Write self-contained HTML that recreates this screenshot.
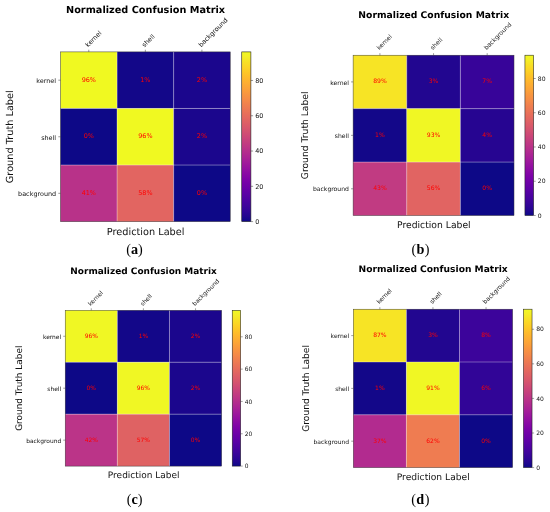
<!DOCTYPE html>
<html><head><meta charset="utf-8"><style>
html,body{margin:0;padding:0;background:#fff;}
body{width:550px;height:512px;overflow:hidden;}
svg{display:block;}
.t{font-family:"DejaVu Sans","Liberation Sans",sans-serif;text-rendering:geometricPrecision;}
</style></head><body>
<svg width="550" height="512" viewBox="0 0 550 512">
<defs><linearGradient id="pl" x1="0" y1="1" x2="0" y2="0"><stop offset="0.000" stop-color="#0d0887"/><stop offset="0.031" stop-color="#220690"/><stop offset="0.062" stop-color="#310597"/><stop offset="0.094" stop-color="#3f049c"/><stop offset="0.125" stop-color="#4c02a1"/><stop offset="0.156" stop-color="#5901a5"/><stop offset="0.188" stop-color="#6600a7"/><stop offset="0.219" stop-color="#7201a8"/><stop offset="0.250" stop-color="#7e03a8"/><stop offset="0.281" stop-color="#8a09a5"/><stop offset="0.312" stop-color="#9511a1"/><stop offset="0.344" stop-color="#a01a9c"/><stop offset="0.375" stop-color="#aa2395"/><stop offset="0.406" stop-color="#b32c8e"/><stop offset="0.438" stop-color="#bc3587"/><stop offset="0.469" stop-color="#c43e7f"/><stop offset="0.500" stop-color="#cc4778"/><stop offset="0.531" stop-color="#d35171"/><stop offset="0.562" stop-color="#da5a6a"/><stop offset="0.594" stop-color="#e06363"/><stop offset="0.625" stop-color="#e66c5c"/><stop offset="0.656" stop-color="#eb7655"/><stop offset="0.688" stop-color="#f0804e"/><stop offset="0.719" stop-color="#f58b47"/><stop offset="0.750" stop-color="#f89540"/><stop offset="0.781" stop-color="#fba139"/><stop offset="0.812" stop-color="#fdac33"/><stop offset="0.844" stop-color="#feb82c"/><stop offset="0.875" stop-color="#fdc527"/><stop offset="0.906" stop-color="#fcd225"/><stop offset="0.938" stop-color="#f8df25"/><stop offset="0.969" stop-color="#f4ed27"/><stop offset="1.000" stop-color="#f0f921"/></linearGradient></defs>
<rect width="550" height="512" fill="#fff"/>

<g transform="translate(60.50 51.90) scale(0.99824 0.99824)">
<rect x="0.000" y="0.000" width="56.687" height="56.687" fill="#f0f921"/>
<rect x="56.667" y="0.000" width="56.687" height="56.687" fill="#130789"/>
<rect x="113.333" y="0.000" width="56.687" height="56.687" fill="#1b068d"/>
<rect x="0.000" y="56.667" width="56.687" height="56.687" fill="#0d0887"/>
<rect x="56.667" y="56.667" width="56.687" height="56.687" fill="#f0f921"/>
<rect x="113.333" y="56.667" width="56.687" height="56.687" fill="#1b068d"/>
<rect x="0.000" y="113.333" width="56.687" height="56.687" fill="#b83289"/>
<rect x="56.667" y="113.333" width="56.687" height="56.687" fill="#e26561"/>
<rect x="113.333" y="113.333" width="56.687" height="56.687" fill="#0d0887"/>
<line x1="56.667" y1="0" x2="56.667" y2="170.0" stroke="#ffffff" stroke-opacity="0.36" stroke-width="1"/>
<line x1="0" y1="56.667" x2="170.0" y2="56.667" stroke="#ffffff" stroke-opacity="0.36" stroke-width="1"/>
<line x1="113.333" y1="0" x2="113.333" y2="170.0" stroke="#ffffff" stroke-opacity="0.36" stroke-width="1"/>
<line x1="0" y1="113.333" x2="170.0" y2="113.333" stroke="#ffffff" stroke-opacity="0.36" stroke-width="1"/>
<rect x="0" y="0" width="170.0" height="170.0" fill="none" stroke="#333" stroke-width="0.5"/>
<text class="t" x="28.333" y="29.933" font-size="6.45" fill="#ff0000" text-anchor="middle">96%</text>
<text class="t" x="85.000" y="29.933" font-size="6.45" fill="#ff0000" text-anchor="middle">1%</text>
<text class="t" x="141.667" y="29.933" font-size="6.45" fill="#ff0000" text-anchor="middle">2%</text>
<text class="t" x="28.333" y="86.600" font-size="6.45" fill="#ff0000" text-anchor="middle">0%</text>
<text class="t" x="85.000" y="86.600" font-size="6.45" fill="#ff0000" text-anchor="middle">96%</text>
<text class="t" x="141.667" y="86.600" font-size="6.45" fill="#ff0000" text-anchor="middle">2%</text>
<text class="t" x="28.333" y="143.267" font-size="6.45" fill="#ff0000" text-anchor="middle">41%</text>
<text class="t" x="85.000" y="143.267" font-size="6.45" fill="#ff0000" text-anchor="middle">58%</text>
<text class="t" x="141.667" y="143.267" font-size="6.45" fill="#ff0000" text-anchor="middle">0%</text>
<line x1="28.333" y1="0" x2="28.333" y2="-2.2" stroke="#333" stroke-width="0.5"/>
<line x1="0" y1="28.333" x2="-2.2" y2="28.333" stroke="#333" stroke-width="0.5"/>
<text class="t" x="-4.4" y="31.133" font-size="6.45" fill="#111" text-anchor="end">kernel</text>
<text class="t" x="0" y="0" font-size="6.45" fill="#111" transform="translate(27.583 -4.450) rotate(-45)">kernel</text>
<line x1="85.000" y1="0" x2="85.000" y2="-2.2" stroke="#333" stroke-width="0.5"/>
<line x1="0" y1="85.000" x2="-2.2" y2="85.000" stroke="#333" stroke-width="0.5"/>
<text class="t" x="-4.4" y="87.800" font-size="6.45" fill="#111" text-anchor="end">shell</text>
<text class="t" x="0" y="0" font-size="6.45" fill="#111" transform="translate(84.250 -4.450) rotate(-45)">shell</text>
<line x1="141.667" y1="0" x2="141.667" y2="-2.2" stroke="#333" stroke-width="0.5"/>
<line x1="0" y1="141.667" x2="-2.2" y2="141.667" stroke="#333" stroke-width="0.5"/>
<text class="t" x="-4.4" y="144.467" font-size="6.45" fill="#111" text-anchor="end">background</text>
<text class="t" x="0" y="0" font-size="6.45" fill="#111" transform="translate(140.917 -4.450) rotate(-45)">background</text>
<text class="t" x="85.2" y="-39.250" font-size="9.75" font-weight="bold" fill="#000" text-anchor="middle">Normalized Confusion Matrix</text>
<text class="t" x="85.3" y="183" font-size="9.75" fill="#111" text-anchor="middle">Prediction Label</text>
<text class="t" x="0" y="0" font-size="9.75" fill="#111" text-anchor="middle" transform="translate(-47.4 85) rotate(-90)">Ground Truth Label</text>
<rect x="181.560" y="0" width="9.180" height="170.0" fill="url(#pl)" stroke="#222" stroke-width="0.6"/>
<line x1="190.740" y1="170.000" x2="192.940" y2="170.000" stroke="#333" stroke-width="0.5"/>
<text class="t" x="195.140" y="172.400" font-size="6.45" fill="#111">0</text>
<line x1="190.740" y1="134.657" x2="192.940" y2="134.657" stroke="#333" stroke-width="0.5"/>
<text class="t" x="195.140" y="137.057" font-size="6.45" fill="#111">20</text>
<line x1="190.740" y1="99.314" x2="192.940" y2="99.314" stroke="#333" stroke-width="0.5"/>
<text class="t" x="195.140" y="101.714" font-size="6.45" fill="#111">40</text>
<line x1="190.740" y1="63.971" x2="192.940" y2="63.971" stroke="#333" stroke-width="0.5"/>
<text class="t" x="195.140" y="66.371" font-size="6.45" fill="#111">60</text>
<line x1="190.740" y1="28.628" x2="192.940" y2="28.628" stroke="#333" stroke-width="0.5"/>
<text class="t" x="195.140" y="31.028" font-size="6.45" fill="#111">80</text>
</g>
<text x="134.50" y="254.20" font-family="Liberation Serif, serif" font-size="14.2" letter-spacing="0" fill="#000" text-anchor="middle">(<tspan font-weight="bold">a</tspan>)</text>
<g transform="translate(353.10 55.20) scale(0.94647 0.94294)">
<rect x="0.000" y="0.000" width="56.687" height="56.687" fill="#f7e425"/>
<rect x="56.667" y="0.000" width="56.687" height="56.687" fill="#220690"/>
<rect x="113.333" y="0.000" width="56.687" height="56.687" fill="#370499"/>
<rect x="0.000" y="56.667" width="56.687" height="56.687" fill="#130789"/>
<rect x="56.667" y="56.667" width="56.687" height="56.687" fill="#f0f724"/>
<rect x="113.333" y="56.667" width="56.687" height="56.687" fill="#260591"/>
<rect x="0.000" y="113.333" width="56.687" height="56.687" fill="#c13b82"/>
<rect x="56.667" y="113.333" width="56.687" height="56.687" fill="#e16462"/>
<rect x="113.333" y="113.333" width="56.687" height="56.687" fill="#0d0887"/>
<line x1="56.667" y1="0" x2="56.667" y2="170.0" stroke="#ffffff" stroke-opacity="0.36" stroke-width="1"/>
<line x1="0" y1="56.667" x2="170.0" y2="56.667" stroke="#ffffff" stroke-opacity="0.36" stroke-width="1"/>
<line x1="113.333" y1="0" x2="113.333" y2="170.0" stroke="#ffffff" stroke-opacity="0.36" stroke-width="1"/>
<line x1="0" y1="113.333" x2="170.0" y2="113.333" stroke="#ffffff" stroke-opacity="0.36" stroke-width="1"/>
<rect x="0" y="0" width="170.0" height="170.0" fill="none" stroke="#333" stroke-width="0.5"/>
<text class="t" x="28.333" y="29.933" font-size="6.45" fill="#ff0000" text-anchor="middle">89%</text>
<text class="t" x="85.000" y="29.933" font-size="6.45" fill="#ff0000" text-anchor="middle">3%</text>
<text class="t" x="141.667" y="29.933" font-size="6.45" fill="#ff0000" text-anchor="middle">7%</text>
<text class="t" x="28.333" y="86.600" font-size="6.45" fill="#ff0000" text-anchor="middle">1%</text>
<text class="t" x="85.000" y="86.600" font-size="6.45" fill="#ff0000" text-anchor="middle">93%</text>
<text class="t" x="141.667" y="86.600" font-size="6.45" fill="#ff0000" text-anchor="middle">4%</text>
<text class="t" x="28.333" y="143.267" font-size="6.45" fill="#ff0000" text-anchor="middle">43%</text>
<text class="t" x="85.000" y="143.267" font-size="6.45" fill="#ff0000" text-anchor="middle">56%</text>
<text class="t" x="141.667" y="143.267" font-size="6.45" fill="#ff0000" text-anchor="middle">0%</text>
<line x1="28.333" y1="0" x2="28.333" y2="-2.2" stroke="#333" stroke-width="0.5"/>
<line x1="0" y1="28.333" x2="-2.2" y2="28.333" stroke="#333" stroke-width="0.5"/>
<text class="t" x="-4.4" y="31.133" font-size="6.45" fill="#111" text-anchor="end">kernel</text>
<text class="t" x="0" y="0" font-size="6.45" fill="#111" transform="translate(27.583 -5.190) rotate(-45)">kernel</text>
<line x1="85.000" y1="0" x2="85.000" y2="-2.2" stroke="#333" stroke-width="0.5"/>
<line x1="0" y1="85.000" x2="-2.2" y2="85.000" stroke="#333" stroke-width="0.5"/>
<text class="t" x="-4.4" y="87.800" font-size="6.45" fill="#111" text-anchor="end">shell</text>
<text class="t" x="0" y="0" font-size="6.45" fill="#111" transform="translate(84.250 -5.190) rotate(-45)">shell</text>
<line x1="141.667" y1="0" x2="141.667" y2="-2.2" stroke="#333" stroke-width="0.5"/>
<line x1="0" y1="141.667" x2="-2.2" y2="141.667" stroke="#333" stroke-width="0.5"/>
<text class="t" x="-4.4" y="144.467" font-size="6.45" fill="#111" text-anchor="end">background</text>
<text class="t" x="0" y="0" font-size="6.45" fill="#111" transform="translate(140.917 -5.190) rotate(-45)">background</text>
<text class="t" x="85.2" y="-39.250" font-size="9.75" font-weight="bold" fill="#000" text-anchor="middle">Normalized Confusion Matrix</text>
<text class="t" x="85.3" y="183" font-size="9.75" fill="#111" text-anchor="middle">Prediction Label</text>
<text class="t" x="0" y="0" font-size="9.75" fill="#111" text-anchor="middle" transform="translate(-47.4 85) rotate(-90)">Ground Truth Label</text>
<rect x="181.560" y="0" width="9.180" height="170.0" fill="url(#pl)" stroke="#222" stroke-width="0.6"/>
<line x1="190.740" y1="170.000" x2="192.940" y2="170.000" stroke="#333" stroke-width="0.5"/>
<text class="t" x="195.140" y="172.400" font-size="6.45" fill="#111">0</text>
<line x1="190.740" y1="133.675" x2="192.940" y2="133.675" stroke="#333" stroke-width="0.5"/>
<text class="t" x="195.140" y="136.075" font-size="6.45" fill="#111">20</text>
<line x1="190.740" y1="97.350" x2="192.940" y2="97.350" stroke="#333" stroke-width="0.5"/>
<text class="t" x="195.140" y="99.750" font-size="6.45" fill="#111">40</text>
<line x1="190.740" y1="61.026" x2="192.940" y2="61.026" stroke="#333" stroke-width="0.5"/>
<text class="t" x="195.140" y="63.426" font-size="6.45" fill="#111">60</text>
<line x1="190.740" y1="24.701" x2="192.940" y2="24.701" stroke="#333" stroke-width="0.5"/>
<text class="t" x="195.140" y="27.101" font-size="6.45" fill="#111">80</text>
</g>
<text x="420.70" y="254.00" font-family="Liberation Serif, serif" font-size="14.2" letter-spacing="0.4" fill="#000" text-anchor="middle">(<tspan font-weight="bold">b</tspan>)</text>
<g transform="translate(65.20 310.30) scale(0.92000 0.91647)">
<rect x="0.000" y="0.000" width="56.687" height="56.687" fill="#f0f724"/>
<rect x="56.667" y="0.000" width="56.687" height="56.687" fill="#130789"/>
<rect x="113.333" y="0.000" width="56.687" height="56.687" fill="#1b068d"/>
<rect x="0.000" y="56.667" width="56.687" height="56.687" fill="#0d0887"/>
<rect x="56.667" y="56.667" width="56.687" height="56.687" fill="#f0f724"/>
<rect x="113.333" y="56.667" width="56.687" height="56.687" fill="#1b068d"/>
<rect x="0.000" y="113.333" width="56.687" height="56.687" fill="#bb3488"/>
<rect x="56.667" y="113.333" width="56.687" height="56.687" fill="#df6263"/>
<rect x="113.333" y="113.333" width="56.687" height="56.687" fill="#0d0887"/>
<line x1="56.667" y1="0" x2="56.667" y2="170.0" stroke="#ffffff" stroke-opacity="0.36" stroke-width="1"/>
<line x1="0" y1="56.667" x2="170.0" y2="56.667" stroke="#ffffff" stroke-opacity="0.36" stroke-width="1"/>
<line x1="113.333" y1="0" x2="113.333" y2="170.0" stroke="#ffffff" stroke-opacity="0.36" stroke-width="1"/>
<line x1="0" y1="113.333" x2="170.0" y2="113.333" stroke="#ffffff" stroke-opacity="0.36" stroke-width="1"/>
<rect x="0" y="0" width="170.0" height="170.0" fill="none" stroke="#333" stroke-width="0.5"/>
<text class="t" x="28.333" y="29.933" font-size="6.45" fill="#ff0000" text-anchor="middle">96%</text>
<text class="t" x="85.000" y="29.933" font-size="6.45" fill="#ff0000" text-anchor="middle">1%</text>
<text class="t" x="141.667" y="29.933" font-size="6.45" fill="#ff0000" text-anchor="middle">2%</text>
<text class="t" x="28.333" y="86.600" font-size="6.45" fill="#ff0000" text-anchor="middle">0%</text>
<text class="t" x="85.000" y="86.600" font-size="6.45" fill="#ff0000" text-anchor="middle">96%</text>
<text class="t" x="141.667" y="86.600" font-size="6.45" fill="#ff0000" text-anchor="middle">2%</text>
<text class="t" x="28.333" y="143.267" font-size="6.45" fill="#ff0000" text-anchor="middle">42%</text>
<text class="t" x="85.000" y="143.267" font-size="6.45" fill="#ff0000" text-anchor="middle">57%</text>
<text class="t" x="141.667" y="143.267" font-size="6.45" fill="#ff0000" text-anchor="middle">0%</text>
<line x1="28.333" y1="0" x2="28.333" y2="-2.2" stroke="#333" stroke-width="0.5"/>
<line x1="0" y1="28.333" x2="-2.2" y2="28.333" stroke="#333" stroke-width="0.5"/>
<text class="t" x="-4.4" y="31.133" font-size="6.45" fill="#111" text-anchor="end">kernel</text>
<text class="t" x="0" y="0" font-size="6.45" fill="#111" transform="translate(27.583 -4.450) rotate(-45)">kernel</text>
<line x1="85.000" y1="0" x2="85.000" y2="-2.2" stroke="#333" stroke-width="0.5"/>
<line x1="0" y1="85.000" x2="-2.2" y2="85.000" stroke="#333" stroke-width="0.5"/>
<text class="t" x="-4.4" y="87.800" font-size="6.45" fill="#111" text-anchor="end">shell</text>
<text class="t" x="0" y="0" font-size="6.45" fill="#111" transform="translate(84.250 -4.450) rotate(-45)">shell</text>
<line x1="141.667" y1="0" x2="141.667" y2="-2.2" stroke="#333" stroke-width="0.5"/>
<line x1="0" y1="141.667" x2="-2.2" y2="141.667" stroke="#333" stroke-width="0.5"/>
<text class="t" x="-4.4" y="144.467" font-size="6.45" fill="#111" text-anchor="end">background</text>
<text class="t" x="0" y="0" font-size="6.45" fill="#111" transform="translate(140.917 -4.450) rotate(-45)">background</text>
<text class="t" x="85.2" y="-39.250" font-size="9.75" font-weight="bold" fill="#000" text-anchor="middle">Normalized Confusion Matrix</text>
<text class="t" x="85.3" y="183" font-size="9.75" fill="#111" text-anchor="middle">Prediction Label</text>
<text class="t" x="0" y="0" font-size="9.75" fill="#111" text-anchor="middle" transform="translate(-47.4 85) rotate(-90)">Ground Truth Label</text>
<rect x="181.560" y="0" width="9.180" height="170.0" fill="url(#pl)" stroke="#222" stroke-width="0.6"/>
<line x1="190.740" y1="170.000" x2="192.940" y2="170.000" stroke="#333" stroke-width="0.5"/>
<text class="t" x="195.140" y="172.400" font-size="6.45" fill="#111">0</text>
<line x1="190.740" y1="134.730" x2="192.940" y2="134.730" stroke="#333" stroke-width="0.5"/>
<text class="t" x="195.140" y="137.130" font-size="6.45" fill="#111">20</text>
<line x1="190.740" y1="99.461" x2="192.940" y2="99.461" stroke="#333" stroke-width="0.5"/>
<text class="t" x="195.140" y="101.861" font-size="6.45" fill="#111">40</text>
<line x1="190.740" y1="64.191" x2="192.940" y2="64.191" stroke="#333" stroke-width="0.5"/>
<text class="t" x="195.140" y="66.591" font-size="6.45" fill="#111">60</text>
<line x1="190.740" y1="28.921" x2="192.940" y2="28.921" stroke="#333" stroke-width="0.5"/>
<text class="t" x="195.140" y="31.321" font-size="6.45" fill="#111">80</text>
</g>
<text x="134.60" y="504.00" font-family="Liberation Serif, serif" font-size="14.2" letter-spacing="0" fill="#000" text-anchor="middle">(<tspan font-weight="bold">c</tspan>)</text>
<g transform="translate(353.30 309.20) scale(0.93706 0.93176)">
<rect x="0.000" y="0.000" width="56.687" height="56.687" fill="#f7e425"/>
<rect x="56.667" y="0.000" width="56.687" height="56.687" fill="#220690"/>
<rect x="113.333" y="0.000" width="56.687" height="56.687" fill="#3c049b"/>
<rect x="0.000" y="56.667" width="56.687" height="56.687" fill="#130789"/>
<rect x="56.667" y="56.667" width="56.687" height="56.687" fill="#f0f724"/>
<rect x="113.333" y="56.667" width="56.687" height="56.687" fill="#310597"/>
<rect x="0.000" y="113.333" width="56.687" height="56.687" fill="#b22b8f"/>
<rect x="56.667" y="113.333" width="56.687" height="56.687" fill="#ef7c51"/>
<rect x="113.333" y="113.333" width="56.687" height="56.687" fill="#0d0887"/>
<line x1="56.667" y1="0" x2="56.667" y2="170.0" stroke="#ffffff" stroke-opacity="0.36" stroke-width="1"/>
<line x1="0" y1="56.667" x2="170.0" y2="56.667" stroke="#ffffff" stroke-opacity="0.36" stroke-width="1"/>
<line x1="113.333" y1="0" x2="113.333" y2="170.0" stroke="#ffffff" stroke-opacity="0.36" stroke-width="1"/>
<line x1="0" y1="113.333" x2="170.0" y2="113.333" stroke="#ffffff" stroke-opacity="0.36" stroke-width="1"/>
<rect x="0" y="0" width="170.0" height="170.0" fill="none" stroke="#333" stroke-width="0.5"/>
<text class="t" x="28.333" y="29.933" font-size="6.45" fill="#ff0000" text-anchor="middle">87%</text>
<text class="t" x="85.000" y="29.933" font-size="6.45" fill="#ff0000" text-anchor="middle">3%</text>
<text class="t" x="141.667" y="29.933" font-size="6.45" fill="#ff0000" text-anchor="middle">8%</text>
<text class="t" x="28.333" y="86.600" font-size="6.45" fill="#ff0000" text-anchor="middle">1%</text>
<text class="t" x="85.000" y="86.600" font-size="6.45" fill="#ff0000" text-anchor="middle">91%</text>
<text class="t" x="141.667" y="86.600" font-size="6.45" fill="#ff0000" text-anchor="middle">6%</text>
<text class="t" x="28.333" y="143.267" font-size="6.45" fill="#ff0000" text-anchor="middle">37%</text>
<text class="t" x="85.000" y="143.267" font-size="6.45" fill="#ff0000" text-anchor="middle">62%</text>
<text class="t" x="141.667" y="143.267" font-size="6.45" fill="#ff0000" text-anchor="middle">0%</text>
<line x1="28.333" y1="0" x2="28.333" y2="-2.2" stroke="#333" stroke-width="0.5"/>
<line x1="0" y1="28.333" x2="-2.2" y2="28.333" stroke="#333" stroke-width="0.5"/>
<text class="t" x="-4.4" y="31.133" font-size="6.45" fill="#111" text-anchor="end">kernel</text>
<text class="t" x="0" y="0" font-size="6.45" fill="#111" transform="translate(27.583 -5.304) rotate(-45)">kernel</text>
<line x1="85.000" y1="0" x2="85.000" y2="-2.2" stroke="#333" stroke-width="0.5"/>
<line x1="0" y1="85.000" x2="-2.2" y2="85.000" stroke="#333" stroke-width="0.5"/>
<text class="t" x="-4.4" y="87.800" font-size="6.45" fill="#111" text-anchor="end">shell</text>
<text class="t" x="0" y="0" font-size="6.45" fill="#111" transform="translate(84.250 -5.304) rotate(-45)">shell</text>
<line x1="141.667" y1="0" x2="141.667" y2="-2.2" stroke="#333" stroke-width="0.5"/>
<line x1="0" y1="141.667" x2="-2.2" y2="141.667" stroke="#333" stroke-width="0.5"/>
<text class="t" x="-4.4" y="144.467" font-size="6.45" fill="#111" text-anchor="end">background</text>
<text class="t" x="0" y="0" font-size="6.45" fill="#111" transform="translate(140.917 -5.304) rotate(-45)">background</text>
<text class="t" x="85.2" y="-40.317" font-size="9.75" font-weight="bold" fill="#000" text-anchor="middle">Normalized Confusion Matrix</text>
<text class="t" x="85.3" y="183" font-size="9.75" fill="#111" text-anchor="middle">Prediction Label</text>
<text class="t" x="0" y="0" font-size="9.75" fill="#111" text-anchor="middle" transform="translate(-47.4 85) rotate(-90)">Ground Truth Label</text>
<rect x="181.560" y="0" width="9.180" height="170.0" fill="url(#pl)" stroke="#222" stroke-width="0.6"/>
<line x1="190.740" y1="170.000" x2="192.940" y2="170.000" stroke="#333" stroke-width="0.5"/>
<text class="t" x="195.140" y="172.400" font-size="6.45" fill="#111">0</text>
<line x1="190.740" y1="132.882" x2="192.940" y2="132.882" stroke="#333" stroke-width="0.5"/>
<text class="t" x="195.140" y="135.282" font-size="6.45" fill="#111">20</text>
<line x1="190.740" y1="95.764" x2="192.940" y2="95.764" stroke="#333" stroke-width="0.5"/>
<text class="t" x="195.140" y="98.164" font-size="6.45" fill="#111">40</text>
<line x1="190.740" y1="58.646" x2="192.940" y2="58.646" stroke="#333" stroke-width="0.5"/>
<text class="t" x="195.140" y="61.046" font-size="6.45" fill="#111">60</text>
<line x1="190.740" y1="21.528" x2="192.940" y2="21.528" stroke="#333" stroke-width="0.5"/>
<text class="t" x="195.140" y="23.928" font-size="6.45" fill="#111">80</text>
</g>
<text x="420.50" y="503.80" font-family="Liberation Serif, serif" font-size="14.2" letter-spacing="0.4" fill="#000" text-anchor="middle">(<tspan font-weight="bold">d</tspan>)</text>
</svg>
</body></html>
